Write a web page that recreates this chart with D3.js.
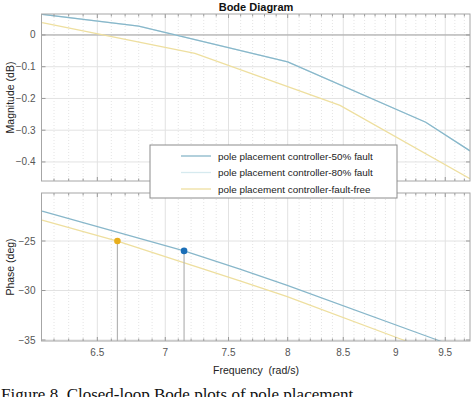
<!DOCTYPE html>
<html>
<head>
<meta charset="utf-8">
<script src="https://cdn.jsdelivr.net/npm/d3@7"></script>
<style>
  body { margin: 0; background: #fff; }
  svg { display: block; font-family: "Liberation Sans", Arial, sans-serif; }
  .tick-label { font-size: 10px; fill: #555; }
</style>
</head>
<body>
<div id="chart"></div>
<script>
// Magnitude (dB) samples
const magFreq50 = [6.12, 6.80, 8.00, 9.30, 9.76];
const mag50 = [0.065, 0.028, -0.085, -0.275, -0.365];
const magFreq80 = [6.12, 6.80, 8.00, 9.30, 9.76];
const mag80 = [0.065, 0.028, -0.085, -0.275, -0.365];
const magFreqFree = [6.12, 7.23, 8.47, 9.76];
const magFree = [0.039, -0.058, -0.222, -0.453];

// Phase (deg) samples
const phaseFreq50 = [6.12, 7.145, 7.60, 7.99, 9.417, 9.76];
const phase50 = [-21.97, -26.0, -27.86, -29.45, -35.0, -36.2];
const phaseFreqFree = [6.12, 6.644, 7.60, 7.99, 9.075, 9.76];
const phaseFree = [-22.88, -25.0, -29.04, -30.6, -35.0, -37.5];

// data tips
const tipFreq = [6.644, 7.145];
const tipPhase = [-25.0, -26.0];
const tipColor = ['#e8ae1c', '#1b6fb8'];

const seriesNames = ['pole placement controller-50% fault', 'pole placement controller-80% fault', 'pole placement controller-fault-free'];
const seriesColors = ['#88b7ca', '#d6eaef', '#eedf9f'];

const xMajor = [6.5, 7, 7.5, 8, 8.5, 9, 9.5];
const xMinor = d3.range(62, 98).map(d => d / 10);
const magTicks = [0, -0.1, -0.2, -0.3, -0.4];
const phaseTicks = [-25, -30, -35];

const W = 474, H = 397;
const left = 41.5, right = 470;
const svg = d3.select('#chart').append('svg').attr('width', W).attr('height', H);

const x = d3.scaleLog().domain([6.116, 9.76]).range([left, right]);
const yMag = d3.scaleLinear().domain([-0.46, 0.066]).range([181, 14]);
const yPh = d3.scaleLinear().domain([-35.1, -20.15]).range([341, 193]);

function drawGrid(y, yTicks, clipId) {
    const [y0, y1] = y.range();
    const g = svg.append('g');
    // minor grid
    g.selectAll('.mg').data(xMinor.filter(d => !xMajor.includes(d)))
        .enter().append('line')
        .attr('x1', d => x(d)).attr('x2', d => x(d))
        .attr('y1', y1).attr('y2', y0)
        .attr('stroke', '#e4e4e4').attr('stroke-dasharray', '1,2');
    // major grid
    g.selectAll('.vg').data(xMajor).enter().append('line')
        .attr('x1', d => x(d)).attr('x2', d => x(d))
        .attr('y1', y1).attr('y2', y0)
        .attr('stroke', '#e2e2e2');
    g.selectAll('.hg').data(yTicks).enter().append('line')
        .attr('x1', left).attr('x2', right)
        .attr('y1', d => y(d)).attr('y2', d => y(d))
        .attr('stroke', '#e2e2e2');

    svg.append('clipPath').attr('id', clipId).append('rect')
        .attr('x', left).attr('y', y1).attr('width', right - left).attr('height', y0 - y1);
    return g;
}

function drawFrame(y, yTicks, fmt, showXLabels) {
    const [y0, y1] = y.range();
    const g = svg.append('g');
    // x ticks, top and bottom
    xMinor.forEach(d => {
        const len = xMajor.includes(d) ? 4 : 2.5;
        g.append('line').attr('x1', x(d)).attr('x2', x(d)).attr('y1', y0).attr('y2', y0 - len).attr('stroke', '#999');
        g.append('line').attr('x1', x(d)).attr('x2', x(d)).attr('y1', y1).attr('y2', y1 + len).attr('stroke', '#999');
    });
    yTicks.forEach(d => {
        g.append('line').attr('x1', left).attr('x2', left + 4).attr('y1', y(d)).attr('y2', y(d)).attr('stroke', '#999');
        g.append('line').attr('x1', right).attr('x2', right - 4).attr('y1', y(d)).attr('y2', y(d)).attr('stroke', '#999');
        g.append('text').attr('class', 'tick-label')
            .attr('x', left - 6).attr('y', y(d) + 3.5)
            .attr('text-anchor', 'end').text(fmt(d));
    });
    g.append('rect').attr('x', left).attr('y', y1).attr('width', right - left).attr('height', y0 - y1)
        .attr('fill', 'none').attr('stroke', '#a6a6a6');
    if (showXLabels) {
        xMajor.forEach(d => {
            g.append('text').attr('class', 'tick-label')
                .attr('x', x(d)).attr('y', y0 + 15)
                .attr('text-anchor', 'middle').text(d);
        });
    }
}

const line = (y) => d3.line().x(d => x(d[0])).y(d => y(d[1]));
const zip = (a, b) => a.map((d, i) => [d, b[i]]);

// ---- magnitude
drawGrid(yMag, magTicks, 'clipMag');
svg.append('line').attr('x1', left).attr('x2', right)
    .attr('y1', yMag(0)).attr('y2', yMag(0)).attr('stroke', '#a3a3a3');
const gm = svg.append('g').attr('clip-path', 'url(#clipMag)');
gm.append('path').datum(zip(magFreqFree, magFree)).attr('d', line(yMag))
    .attr('fill', 'none').attr('stroke', seriesColors[2]).attr('stroke-width', 1.3);
gm.append('path').datum(zip(magFreq80, mag80)).attr('d', line(yMag))
    .attr('fill', 'none').attr('stroke', seriesColors[1]).attr('stroke-width', 1.3);
gm.append('path').datum(zip(magFreq50, mag50)).attr('d', line(yMag))
    .attr('fill', 'none').attr('stroke', seriesColors[0]).attr('stroke-width', 1.3);
drawFrame(yMag, magTicks, d => d === 0 ? '0' : d3.format('.1f')(d), false);

// ---- phase
drawGrid(yPh, phaseTicks, 'clipPh');
const gp = svg.append('g').attr('clip-path', 'url(#clipPh)');
gp.append('path').datum(zip(phaseFreqFree, phaseFree)).attr('d', line(yPh))
    .attr('fill', 'none').attr('stroke', seriesColors[2]).attr('stroke-width', 1.3);
gp.append('path').datum(zip(phaseFreq50, phase50)).attr('d', line(yPh))
    .attr('fill', 'none').attr('stroke', seriesColors[0]).attr('stroke-width', 1.3);
tipFreq.forEach((f, i) => {
    gp.append('line').attr('x1', x(f)).attr('x2', x(f))
        .attr('y1', yPh(tipPhase[i])).attr('y2', yPh.range()[0])
        .attr('stroke', '#b4b4b4').attr('stroke-width', 1.2);
    gp.append('circle').attr('cx', x(f)).attr('cy', yPh(tipPhase[i])).attr('r', 3.3)
        .attr('fill', tipColor[i]);
});
drawFrame(yPh, phaseTicks, d3.format('d'), true);

// ---- legend
const lg = svg.append('g').attr('transform', 'translate(150,145)');
lg.append('rect').attr('width', 247).attr('height', 53)
    .attr('fill', '#fff').attr('stroke', '#8c8c8c');
seriesNames.forEach((name, i) => {
    const yy = 11 + i * 16.5;
    lg.append('line').attr('x1', 31).attr('x2', 61).attr('y1', yy).attr('y2', yy)
        .attr('stroke', seriesColors[i]).attr('stroke-width', 1.3);
    lg.append('text').attr('x', 68).attr('y', yy + 3.5)
        .style('font-size', '9.9px').style('fill', '#222').text(name);
});

// ---- titles
svg.append('text').attr('x', 256).attr('y', 11).attr('text-anchor', 'middle')
    .style('font-size', '11px').style('font-weight', 'bold').style('fill', '#111').text('Bode Diagram');
svg.append('text').attr('transform', 'translate(14,' + (yMag.range()[1] + yMag.range()[0]) / 2 + ') rotate(-90)')
    .attr('text-anchor', 'middle').style('font-size', '10.5px').style('fill', '#222').text('Magnitude (dB)');
svg.append('text').attr('transform', 'translate(14,' + (yPh.range()[1] + yPh.range()[0]) / 2 + ') rotate(-90)')
    .attr('text-anchor', 'middle').style('font-size', '10.5px').style('fill', '#222').text('Phase (deg)');
svg.append('text').attr('x', 256).attr('y', 374).attr('text-anchor', 'middle')
    .style('font-size', '10.5px').style('fill', '#222').attr('xml:space', 'preserve').text('Frequency  (rad/s)');

// caption, cut off by the bottom edge as in the source
svg.append('text').attr('x', 1).attr('y', 399.5)
    .style('font-family', '"Liberation Serif", "Times New Roman", serif')
    .style('font-size', '17px').style('fill', '#111')
    .text('Figure 8. Closed-loop Bode plots of pole placement');
</script>
</body>
</html>
